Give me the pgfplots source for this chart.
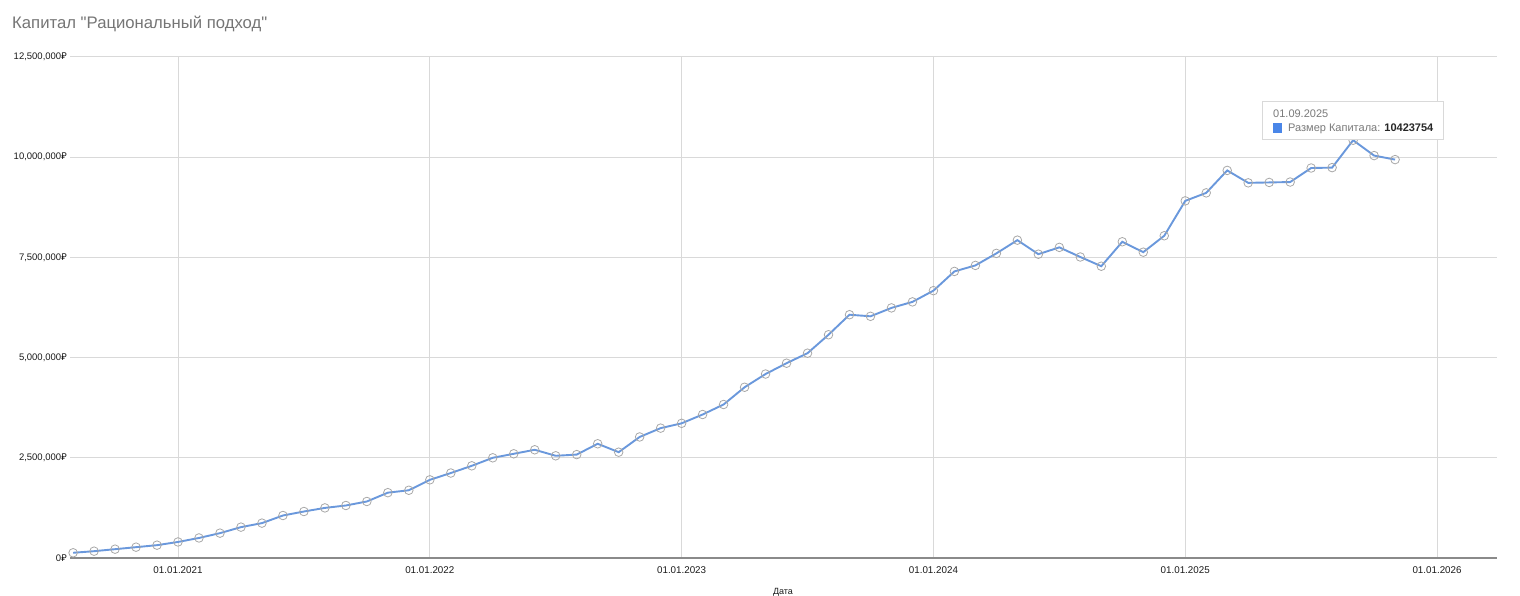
\documentclass[border=0pt]{standalone}
\usepackage{pgfplots}
\pgfplotsset{compat=1.18}
\usepackage{pgfplotstable}
\usepackage{fontspec}
\setmainfont{Liberation Sans}[Ligatures=TeXOff]
\newfontfamily\rubfont{Noto Sans}
\newcommand{\rub}{{\rubfont ₽}}
\usetikzlibrary{shadows}
\definecolor{linecol}{HTML}{6A98DC}
\definecolor{markgrey}{HTML}{A8A8A8}
\definecolor{gridgrey}{HTML}{D9D9D9}
\definecolor{axgrey}{HTML}{8A8A8A}
\definecolor{titlegrey}{HTML}{757575}
\definecolor{tipgrey}{HTML}{7A7A7A}
\definecolor{tipblue}{HTML}{4A86E8}
\definecolor{tickcol}{HTML}{1A1A1A}

\pgfplotstableread{
m v
7 130000
8 170000
9 220000
10 270000
11 320000
12 400000
13 500000
14 620000
15 770000
16 870000
17 1060000
18 1160000
19 1250000
20 1310000
21 1410000
22 1630000
23 1690000
24 1950000
25 2120000
26 2300000
27 2500000
28 2600000
29 2700000
30 2550000
31 2580000
32 2850000
33 2640000
34 3020000
35 3240000
36 3360000
37 3580000
38 3830000
39 4260000
40 4590000
41 4860000
42 5110000
43 5570000
44 6070000
45 6030000
46 6240000
47 6390000
48 6670000
49 7150000
50 7300000
51 7600000
52 7930000
53 7580000
54 7750000
55 7510000
56 7280000
57 7890000
58 7630000
59 8040000
60 8910000
61 9110000
62 9670000
63 9360000
64 9370000
65 9380000
66 9730000
67 9740000
68 10423754
69 10040000
70 9940000
}\capital

\begin{document}
\begin{tikzpicture}
\useasboundingbox (0pt,0pt) rectangle (1520pt,596pt);
\node[anchor=base west, inner sep=0pt, text=titlegrey, font=\fontsize{16.7}{19}\selectfont] at (12pt,567.7pt) {Капитал "Рациональный подход"};
\begin{axis}[
  at={(70pt,38pt)}, anchor=south west,
  scale only axis, width=1427pt, height=501pt,
  xmin=6.853, xmax=74.859, ymin=0, ymax=12500000,
  scaled y ticks=false, scaled x ticks=false,
  xtick={12,24,36,48,60,72},
  xticklabels={01.01.2021,01.01.2022,01.01.2023,01.01.2024,01.01.2025,01.01.2026},
  ytick={0,2500000,5000000,7500000,10000000,12500000},
  yticklabels={{0\rub},{2,500,000\rub},{5,000,000\rub},{7,500,000\rub},{10,000,000\rub},{12,500,000\rub}},
  grid=major,
  major grid style={draw=gridgrey, line width=1pt},
  major tick length=0pt,
  axis x line*=bottom, axis y line*=left,
  x axis line style={draw=axgrey, line width=1.6pt, -},
  y axis line style={draw=none},
  yticklabel style={font=\fontsize{9.5}{11}\selectfont, text=tickcol, anchor=east, inner sep=0pt, xshift=-3pt},
  xticklabel style={font=\fontsize{9.8}{11}\selectfont, text=tickcol, anchor=north, inner sep=0pt, yshift=-8pt},
  clip=false,
]
\addplot[color=linecol, line width=1.9pt, mark=o, mark size=4.3pt,
  mark options={draw=markgrey, line width=0.8pt, fill=none, solid}] table[x=m, y=v] {\capital};
\end{axis}
\node[anchor=north, inner sep=0pt, font=\fontsize{9}{10}\selectfont, text=tickcol] at (783pt,8pt) {Дата};
% tooltip
\path[draw=gridgrey, fill=white, line width=0.6pt,
  drop shadow={opacity=0.18, shadow xshift=0.8pt, shadow yshift=-1.2pt}]
  (1262.7pt,456.7pt) rectangle (1443.3pt,494.3pt);
\node[anchor=base west, inner sep=0pt, text=tipgrey, font=\fontsize{11}{12}\selectfont] at (1273pt,478.7pt) {01.09.2025};
\fill[tipblue] (1272.7pt,463.3pt) rectangle (1282.3pt,472.7pt);
\node[anchor=base west, inner sep=0pt, text=tipgrey, font=\fontsize{11}{12}\selectfont] at (1288pt,464.3pt) {Размер Капитала: \textcolor{black!85}{\bfseries 10423754}};
\end{tikzpicture}
\end{document}
